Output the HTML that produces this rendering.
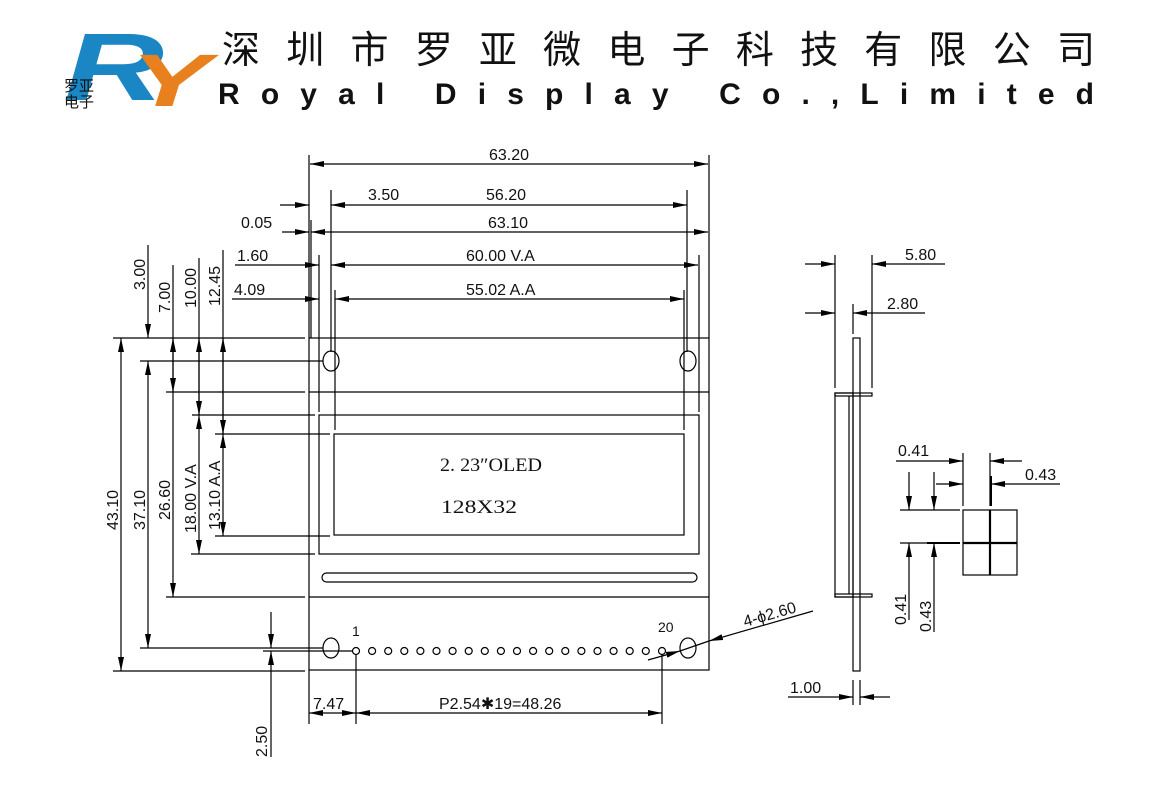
<!DOCTYPE html>
<html><head><meta charset="utf-8"><style>
html,body{margin:0;padding:0;background:#fff;}
svg{display:block;}
text{font-family:"Liberation Sans","DejaVu Sans",sans-serif;fill:#111;}
</style></head><body>
<svg width="1166" height="793" viewBox="0 0 1166 793" xmlns="http://www.w3.org/2000/svg">
<defs>
<marker id="a" viewBox="0 0 14 6" refX="14" refY="3" markerWidth="14" markerHeight="6" markerUnits="userSpaceOnUse" orient="auto-start-reverse"><path d="M0,0 L14,3 L0,6 z" fill="#000"/></marker>
</defs>

<!-- Logo -->
<text x="64" y="100" font-family="Liberation Serif,serif" font-style="italic" font-weight="bold" font-size="96" style="fill:#1a86c4" textLength="100" lengthAdjust="spacingAndGlyphs">R</text>
<text x="130" y="106" font-family="Liberation Serif,serif" font-style="italic" font-weight="bold" font-size="74" style="fill:#e8801e" textLength="80" lengthAdjust="spacingAndGlyphs">Y</text>
<text x="64" y="91" font-size="15" style="font-family:'Liberation Sans','Noto Sans CJK SC',sans-serif">罗亚</text>
<text x="64" y="107" font-size="15" style="font-family:'Liberation Sans','Noto Sans CJK SC',sans-serif">电子</text>

<!-- Header -->
<text x="222" y="63" font-size="38" textLength="873" lengthAdjust="spacing" style="font-family:'Liberation Sans','Noto Sans CJK SC',sans-serif">深圳市罗亚微电子科技有限公司</text>
<text x="218" y="104" font-size="30" font-weight="bold" textLength="876" lengthAdjust="spacing">Royal Display Co.,Limited</text>

<g stroke="#000" stroke-width="1.2" fill="none">
<rect x="309" y="338" width="400" height="332"/>
<line x1="309" y1="392" x2="709" y2="392"/>
<line x1="309" y1="597" x2="709" y2="597"/>
<rect x="319" y="415" width="380" height="139"/>
<rect x="334" y="434" width="350" height="101"/>
<rect x="322" y="573" width="375" height="9" rx="4.5"/>
<ellipse cx="331" cy="361" rx="8" ry="10"/>
<ellipse cx="688" cy="361" rx="8" ry="10"/>
<ellipse cx="331" cy="648" rx="8" ry="10"/>
<ellipse cx="688" cy="648" rx="8" ry="10"/>
<g>
<circle cx="356" cy="651" r="3.5"/><circle cx="372.1" cy="651" r="3.5"/><circle cx="388.2" cy="651" r="3.5"/><circle cx="404.3" cy="651" r="3.5"/><circle cx="420.4" cy="651" r="3.5"/><circle cx="436.5" cy="651" r="3.5"/><circle cx="452.6" cy="651" r="3.5"/><circle cx="468.7" cy="651" r="3.5"/><circle cx="484.8" cy="651" r="3.5"/><circle cx="500.9" cy="651" r="3.5"/><circle cx="517" cy="651" r="3.5"/><circle cx="533.1" cy="651" r="3.5"/><circle cx="549.2" cy="651" r="3.5"/><circle cx="565.3" cy="651" r="3.5"/><circle cx="581.4" cy="651" r="3.5"/><circle cx="597.5" cy="651" r="3.5"/><circle cx="613.6" cy="651" r="3.5"/><circle cx="629.7" cy="651" r="3.5"/><circle cx="645.8" cy="651" r="3.5"/><circle cx="662" cy="651" r="3.5"/>
</g>

<line x1="309" y1="155" x2="309" y2="338"/>
<line x1="709" y1="155" x2="709" y2="338"/>
<line x1="311" y1="220" x2="311" y2="338"/>
<line x1="331" y1="190" x2="331" y2="352"/>
<line x1="687" y1="190" x2="687" y2="352"/>
<line x1="319" y1="255" x2="319" y2="412"/>
<line x1="699" y1="255" x2="699" y2="412"/>
<line x1="335" y1="290" x2="335" y2="430"/>
<line x1="684" y1="290" x2="684" y2="430"/>

<line x1="310" y1="164" x2="708" y2="164" marker-start="url(#a)" marker-end="url(#a)"/>
<line x1="280" y1="205" x2="309" y2="205" marker-end="url(#a)"/>
<line x1="331" y1="205" x2="687" y2="205" marker-start="url(#a)" marker-end="url(#a)"/>
<line x1="282" y1="232" x2="309" y2="232" marker-end="url(#a)"/>
<line x1="311" y1="232" x2="708" y2="232" marker-start="url(#a)" marker-end="url(#a)"/>
<line x1="235" y1="265" x2="319" y2="265" marker-end="url(#a)"/>
<line x1="331" y1="265" x2="698" y2="265" marker-start="url(#a)" marker-end="url(#a)"/>
<line x1="232" y1="299" x2="319" y2="299" marker-end="url(#a)"/>
<line x1="335" y1="299" x2="684" y2="299" marker-start="url(#a)" marker-end="url(#a)"/>

<line x1="113" y1="338" x2="305" y2="338"/>
<line x1="140" y1="361" x2="323" y2="361"/>
<line x1="166" y1="392" x2="305" y2="392"/>
<line x1="192" y1="415" x2="315" y2="415"/>
<line x1="215" y1="434" x2="330" y2="434"/>
<line x1="215" y1="536" x2="330" y2="536"/>
<line x1="191" y1="554" x2="315" y2="554"/>
<line x1="166" y1="597" x2="305" y2="597"/>
<line x1="140" y1="648" x2="323" y2="648"/>
<line x1="263" y1="651" x2="352" y2="651"/>
<line x1="113" y1="671" x2="305" y2="671"/>

<line x1="148" y1="245" x2="148" y2="338" marker-end="url(#a)"/>
<line x1="148" y1="361" x2="148" y2="648" marker-start="url(#a)" marker-end="url(#a)"/>
<line x1="173" y1="265" x2="173" y2="392"/>
<line x1="173" y1="338" x2="173" y2="392" marker-start="url(#a)" marker-end="url(#a)"/>
<line x1="173" y1="392" x2="173" y2="597" marker-end="url(#a)"/>
<line x1="199" y1="258" x2="199" y2="415"/>
<line x1="199" y1="338" x2="199" y2="415" marker-start="url(#a)" marker-end="url(#a)"/>
<line x1="199" y1="415" x2="199" y2="554" marker-start="url(#a)" marker-end="url(#a)"/>
<line x1="223" y1="250" x2="223" y2="434"/>
<line x1="223" y1="338" x2="223" y2="434" marker-start="url(#a)" marker-end="url(#a)"/>
<line x1="223" y1="434" x2="223" y2="536" marker-start="url(#a)" marker-end="url(#a)"/>
<line x1="121" y1="338" x2="121" y2="671" marker-start="url(#a)" marker-end="url(#a)"/>

<line x1="271" y1="612" x2="271" y2="648" marker-end="url(#a)"/>
<line x1="271" y1="651" x2="271" y2="757" marker-start="url(#a)"/>

<line x1="309" y1="670" x2="309" y2="724"/>
<line x1="356" y1="654" x2="356" y2="724"/>
<line x1="662" y1="654" x2="662" y2="724"/>
<line x1="309" y1="713" x2="356" y2="713" marker-start="url(#a)" marker-end="url(#a)"/>
<line x1="356" y1="713" x2="662" y2="713" marker-start="url(#a)" marker-end="url(#a)"/>

<line x1="648" y1="660" x2="680" y2="651" marker-end="url(#a)"/>
<line x1="813" y1="611" x2="709" y2="641" marker-end="url(#a)"/>
<line x1="680" y1="651" x2="709" y2="641"/>

<rect x="853" y="338" width="7" height="333"/>
<rect x="835" y="393" width="18" height="204"/>
<line x1="849" y1="396" x2="849" y2="594"/>
<rect x="835" y="393" width="37" height="3"/>
<rect x="835" y="594" width="37" height="3"/>
<line x1="835" y1="255" x2="835" y2="388"/>
<line x1="872" y1="255" x2="872" y2="388"/>
<line x1="853" y1="304" x2="853" y2="334"/>
<line x1="805" y1="264" x2="835" y2="264" marker-end="url(#a)"/>
<line x1="945" y1="264" x2="872" y2="264" marker-end="url(#a)"/>
<line x1="805" y1="313" x2="835" y2="313" marker-end="url(#a)"/>
<line x1="925" y1="313" x2="853" y2="313" marker-end="url(#a)"/>
<line x1="853" y1="680" x2="853" y2="705"/>
<line x1="860" y1="680" x2="860" y2="705"/>
<line x1="788" y1="697" x2="853" y2="697" marker-end="url(#a)"/>
<line x1="890" y1="697" x2="860" y2="697" marker-end="url(#a)"/>

<rect x="963" y="510" width="54" height="65"/>
<line x1="990" y1="510" x2="990" y2="575" stroke-width="2.2"/>
<line x1="963" y1="543" x2="1017" y2="543" stroke-width="2.2"/>
<line x1="963" y1="453" x2="963" y2="506"/>
<line x1="990" y1="453" x2="990" y2="506"/>
<line x1="991" y1="476" x2="991" y2="506" stroke-width="2"/>
<line x1="896" y1="461" x2="963" y2="461" marker-end="url(#a)"/>
<line x1="1022" y1="461" x2="990" y2="461" marker-end="url(#a)"/>
<line x1="936" y1="484" x2="963" y2="484" marker-end="url(#a)"/>
<line x1="1060" y1="484" x2="991" y2="484" marker-end="url(#a)"/>
<line x1="900" y1="510" x2="960" y2="510"/>
<line x1="900" y1="543" x2="927" y2="543"/>
<line x1="927" y1="543" x2="960" y2="543" stroke-width="2"/>
<line x1="909" y1="472" x2="909" y2="510" marker-end="url(#a)"/>
<line x1="909" y1="543" x2="909" y2="620" marker-start="url(#a)"/>
<line x1="934" y1="472" x2="934" y2="510" marker-end="url(#a)"/>
<line x1="934" y1="543" x2="934" y2="632" marker-start="url(#a)"/>
</g>

<g font-size="16">
<text x="489" y="160">63.20</text>
<text x="368" y="200">3.50</text>
<text x="486" y="200">56.20</text>
<text x="488" y="228">63.10</text>
<text x="466" y="261">60.00  V.A</text>
<text x="466" y="295">55.02  A.A</text>
<text x="241" y="228">0.05</text>
<text x="237" y="261">1.60</text>
<text x="234" y="295">4.09</text>
<text x="313" y="709">7.47</text>
<text x="439" y="709">P2.54✱19=48.26</text>
<text x="352" y="636" font-size="14">1</text>
<text x="658" y="632" font-size="14">20</text>
<text x="905" y="260">5.80</text>
<text x="887" y="309">2.80</text>
<text x="790" y="693">1.00</text>
<text x="898" y="456">0.41</text>
<text x="1025" y="480">0.43</text>
<text transform="translate(745,627) rotate(-16)">4-ϕ2.60</text>
<text transform="translate(145,290) rotate(-90)">3.00</text>
<text transform="translate(170,313) rotate(-90)">7.00</text>
<text transform="translate(196,308) rotate(-90)">10.00</text>
<text transform="translate(220,306) rotate(-90)">12.45</text>
<text transform="translate(118,530) rotate(-90)">43.10</text>
<text transform="translate(145,530) rotate(-90)">37.10</text>
<text transform="translate(170,520) rotate(-90)">26.60</text>
<text transform="translate(196,533) rotate(-90)">18.00  V.A</text>
<text transform="translate(220,530) rotate(-90)">13.10  A.A</text>
<text transform="translate(267,757) rotate(-90)">2.50</text>
<text transform="translate(906,625) rotate(-90)">0.41</text>
<text transform="translate(931,632) rotate(-90)">0.43</text>
</g>
<text x="440" y="471" font-size="19" style="font-family:'Liberation Serif',serif" textLength="102" lengthAdjust="spacingAndGlyphs">2. 23″OLED</text>
<text x="441" y="513" font-size="19" style="font-family:'Liberation Serif',serif" textLength="76" lengthAdjust="spacingAndGlyphs">128X32</text>
</svg>
</body></html>
